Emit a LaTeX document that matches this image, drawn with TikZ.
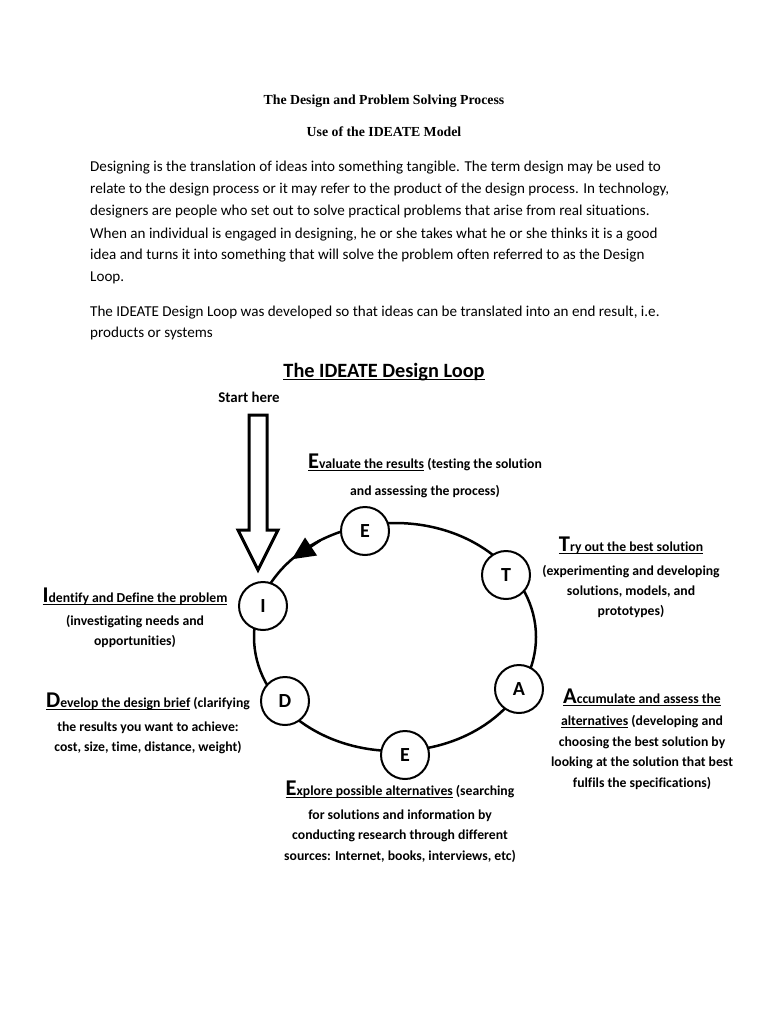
\documentclass[tikz,border=0pt]{standalone}
\usepackage{fontspec}
\setmainfont{Carlito}[Ligatures=NoCommon]
\newfontfamily\timesfont{Liberation Serif}
\usetikzlibrary{arrows.meta}
\newcommand\initialcap[1]{{\fontsize{22.5}{22}\selectfont #1}}
\newcommand\myul[1]{\setbox0\hbox{#1}\rlap{\rule[-2.4pt]{\wd0}{0.9pt}}\box0\relax}
\tikzset{
  para/.style={anchor=base west, inner sep=0pt, font=\fontsize{15.1}{17}\selectfont},
  ttl/.style={anchor=base, inner sep=0pt, font=\timesfont\bfseries\fontsize{13.8}{16}\selectfont},
  lbl/.style={anchor=base, inner sep=0pt, font=\bfseries\fontsize{13.7}{15}\selectfont},
  stage/.style={circle, draw, line width=2pt, fill=white, minimum size=48pt, inner sep=0pt,
    font=\bfseries\fontsize{20}{20}\selectfont},
  loopline/.style={line width=2.5pt},
}
\begin{document}
\begin{tikzpicture}[x=1pt,y=-1pt]
\useasboundingbox (0,0) rectangle (768,1024);
\fill[white] (0,0) rectangle (768,1024);

% titles
\node[ttl] (t1) at (384,105) {The Design and Problem Solving Process};
\node[ttl] (t2) at (384,137) {Use of the IDEATE Model};

% paragraph
\node[para] (p1) at (90,172) {Designing is the translation of ideas into something tangible. The term design may be used to};
\node[para] (p2) at (90,194) {relate to the design process or it may refer to the product of the design process. In technology,};
\node[para] (p3) at (90,216) {designers are people who set out to solve practical problems that arise from real situations.};
\node[para] (p4) at (90,238) {When an individual is engaged in designing, he or she takes what he or she thinks it is a good};
\node[para] (p5) at (90,259) {idea and turns it into something that will solve the problem often referred to as the Design};
\node[para] (p6) at (90,281) {Loop.};
\node[para] (p7) at (90,316) {The IDEATE Design Loop was developed so that ideas can be translated into an end result, i.e.};
\node[para] (p8) at (90,337) {products or systems};

% loop title
\node[anchor=base, inner sep=0pt, font=\bfseries\fontsize{20.3}{20}\selectfont] (lt) at (384,377)
  {\setbox0\hbox{The IDEATE Design Loop}\rlap{\rule[-3pt]{\wd0}{1.3pt}}\box0\relax};
\node[anchor=base, inner sep=0pt, font=\bfseries\fontsize{14.9}{15}\selectfont] (sh) at (249,402) {Start here};

% start arrow
\draw[line width=3pt, fill=white, line join=miter]
  (249,415) -- (267,415) -- (267,530) -- (278,530) -- (258,570) -- (238,530) -- (249,530) -- cycle;

% loop
\draw[loopline] (395,637) ellipse [x radius=141, y radius=114];
\coordinate (a1) at ({395+141*cos(122)},{637-114*sin(122)});
\coordinate (a2) at ({395+141*cos(137)},{637-114*sin(137)});
\draw[loopline, -{Triangle[length=23pt,width=21pt]}] (a1) -- (a2);

\node[stage] (ev) at (365,531) {E};
\node[stage] (tr) at (506,575) {T};
\node[stage] (id) at (263,606) {I};
\node[stage] (dv) at (285,701) {D};
\node[stage] (ac) at (519,689) {A};
\node[stage] (ex) at (405,755) {E};

% labels
\node[lbl] (e1) at (425,468) {\myul{\initialcap{E}valuate the results} (testing the solution};
\node[lbl] (e2) at (425,495) {and assessing the process)};

\node[lbl] (r1) at (631,551) {\myul{\initialcap{T}ry out the best solution}};
\node[lbl] (r2) at (631,575) {(experimenting and developing};
\node[lbl] (r3) at (631,595) {solutions, models, and};
\node[lbl] (r4) at (631,615) {prototypes)};

\node[lbl] (i1) at (135,602) {\myul{\initialcap{I}dentify and Define the problem}};
\node[lbl] (i2) at (135,625) {(investigating needs and};
\node[lbl] (i3) at (135,645) {opportunities)};

\node[lbl] (d1) at (148,707) {\myul{\initialcap{D}evelop the design brief} (clarifying};
\node[lbl] (d2) at (148,731) {the results you want to achieve:};
\node[lbl] (d3) at (148,751) {cost, size, time, distance, weight)};

\node[lbl] (c1) at (642,703) {\myul{\initialcap{A}ccumulate and assess the}};
\node[lbl] (c2) at (642,725) {\myul{alternatives} (developing and};
\node[lbl] (c3) at (642,746) {choosing the best solution by};
\node[lbl] (c4) at (642,766) {looking at the solution that best};
\node[lbl] (c5) at (642,787) {fulfils the specifications)};

\node[lbl] (x1) at (400,795) {\myul{\initialcap{E}xplore possible alternatives} (searching};
\node[lbl] (x2) at (400,819) {for solutions and information by};
\node[lbl] (x3) at (400,839) {conducting research through different};
\node[lbl] (x4) at (400,860) {sources: Internet, books, interviews, etc)};
\end{tikzpicture}
\end{document}
